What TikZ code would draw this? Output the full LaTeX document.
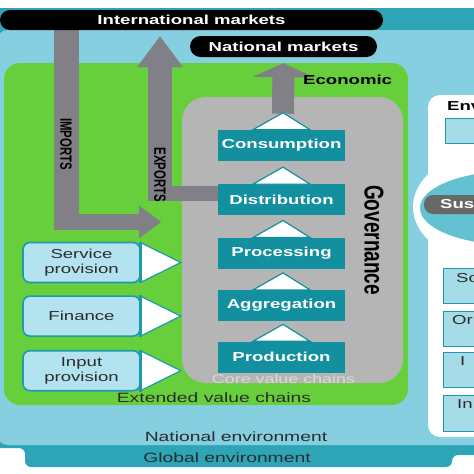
\documentclass[tikz,border=0pt]{standalone}
\usepackage{fontspec}
\setmainfont{Liberation Sans}[FakeStretch=1.43]
\newfontfamily\tallsf{Liberation Sans}
\usetikzlibrary{positioning,arrows.meta,shapes.misc}
\definecolor{globteal}{HTML}{2EA5B7}
\definecolor{natblue}{HTML}{86CFE1}
\definecolor{extgreen}{HTML}{68CF3C}
\definecolor{coregray}{HTML}{B5B5B5}
\definecolor{corelight}{HTML}{DADADA}
\definecolor{arrgray}{HTML}{808086}
\definecolor{chainteal}{HTML}{13909F}
\definecolor{suppfill}{HTML}{B3E3EE}
\definecolor{suppedge}{HTML}{1E9AAE}
\definecolor{ringteal}{HTML}{63C1D1}
\definecolor{pillgray}{HTML}{686868}
\definecolor{boxfill}{HTML}{A6DCE7}
\definecolor{darktext}{HTML}{2B2B2B}
\pgfdeclarelayer{back}
\pgfdeclarelayer{mid}
\pgfsetlayers{back,mid,main}
\tikzset{
  region/.style={rectangle, inner sep=0pt, outer sep=0pt},
  market/.style={rounded rectangle, fill=black, text=white, inner sep=0pt, font=\fontsize{13}{15}\selectfont\bfseries},
  stage/.style={rectangle, fill=chainteal, text=white, minimum width=127pt, minimum height=31pt, inner sep=0pt, font=\fontsize{13}{15}\selectfont\bfseries},
  uptri/.style={draw=chainteal, line width=1.2pt, fill=white, line join=miter},
  supply/.style={rectangle, rounded corners=7pt, draw=suppedge, line width=1.6pt, fill=suppfill, text=darktext, minimum width=117pt, minimum height=40pt, inner sep=0pt, align=center, font=\fontsize{13}{14.5}\selectfont},
  sidetri/.style={draw=suppedge, line width=1.2pt, fill=white, line join=miter},
  fat/.style={draw=arrgray, line join=miter},
  vlabel/.style={rotate=-90, yscale=1.43, inner sep=0pt, text=black},
  envbox/.style={rectangle, draw=suppedge, line width=1pt, fill=boxfill, inner sep=0pt, minimum width=60pt},
  frag/.style={anchor=west, inner sep=0pt, text=darktext, font=\fontsize{13}{15}\selectfont},
  envlabel/.style={inner sep=0pt, text=darktext, font=\fontsize{13.5}{15}\selectfont}
}
\begin{document}
\begin{tikzpicture}[x=1pt,y=-1pt]
  \useasboundingbox (0,0) rectangle (474,474);
  \clip (0,0) rectangle (474,474);

  \begin{pgfonlayer}{back}
    \fill[globteal, rounded corners=6pt] (-10,8) -- (490,8) -- (490,455) -- (452,455) -- (452,467) -- (25,467) -- (25,448) -- (-10,448) -- cycle;
    \fill[natblue, rounded corners=12pt] (-4,30) rectangle (490,445);
    \node[region, fill=extgreen, rounded corners=16pt, minimum width=404pt, minimum height=342pt] (ext) at (206,234) {};
    \node[region, fill=coregray, rounded corners=24pt, minimum width=221pt, minimum height=286pt] (core) at (292.5,240) {};
    % sustainability panel
    \node[region, fill=white, rounded corners=12pt, minimum width=70pt, minimum height=342pt] (panel) at (463,266) {};
    \fill[white] (513,207) ellipse [x radius=100, y radius=62];
    \fill[ringteal] (513,208) ellipse [x radius=93, y radius=37];
    \node[region, fill=pillgray, rounded corners=9pt, minimum width=90pt, minimum height=19pt, anchor=west] (sus) at (424,204.5) {};
  \end{pgfonlayer}

  \node[market, minimum width=383pt, minimum height=20pt] (intl) at (191.5,20) {International markets};
  \node[market, minimum width=187pt, minimum height=21pt] (natl) at (283.5,46.5) {National markets};

  \node[stage] (prod) at (281.5,357) {Production};
  \node[stage, above=20pt of prod] (aggr) {Aggregation};
  \node[stage, above=21pt of aggr] (proc) {Processing};
  \node[stage, above=22pt of proc] (distr) {Distribution};
  \node[stage, above=23pt of distr] (cons) {Consumption};
  \foreach \s in {cons,distr,proc,aggr,prod}
    \draw[uptri] ([xshift=-28.5pt]\s.north) -- ([xshift=28.5pt]\s.north) -- ([xshift=1.5pt,yshift=17pt]\s.north) -- cycle;

  \node[supply] (serv) at (81.5,262.5) {Service\\provision};
  \node[supply, below=12pt of serv] (fin) {Finance};
  \node[supply, below=13pt of fin] (inp) {Input\\provision};
  \foreach \s in {serv,fin,inp} {
    \draw[sidetri] ([yshift=-1pt]\s.north east) -- ([yshift=1pt]\s.south east) -- ([xshift=40pt]\s.east) -- cycle;
    \draw[suppedge, line width=3pt] (\s.north east) -- (\s.south east);
  }

  \node[anchor=west, inner sep=0pt, font=\fontsize{13}{15}\selectfont\bfseries] (econ) at (303,80) {Economic};
  \node[vlabel, font=\tallsf\fontsize{19}{21}\selectfont\bfseries] (gov) at (374,240) {Governance};
  \node[vlabel, font=\tallsf\fontsize{11.4}{13}\selectfont\bfseries] (implab) at (66,144) {IMPORTS};
  \node[vlabel, font=\tallsf\fontsize{11.4}{13}\selectfont\bfseries] (explab) at (160,175) {EXPORTS};

  \node[envlabel] (extlab) at (214,398) {Extended value chains};
  \node[envlabel, text=corelight, font=\fontsize{12.5}{14}\selectfont] (corelab) at (283.5,379) {Core value chains};
  \node[envlabel] (natlab) at (236,437) {National environment};
  \node[envlabel] (globlab) at (227,458) {Global environment};

  \node[frag, font=\fontsize{13}{15}\selectfont\bfseries, text=black] (envlab) at (447,106) {Env};
  \node[envbox, minimum height=25pt, anchor=north west] (envtop) at (445,118) {};
  \node[frag, text=white, font=\fontsize{13}{15}\selectfont\bfseries] (suslab) at ([xshift=16pt]sus.west) {Sus};
  \node[envbox, minimum height=35pt, anchor=north west] (soc) at (443,268) {};
  \node[envbox, minimum height=35pt, below=7pt of soc.south west, anchor=north west] (org) {};
  \node[envbox, minimum height=35pt, below=5pt of org.south west, anchor=north west] (ins) {};
  \node[envbox, minimum height=36pt, below=7pt of ins.south west, anchor=north west] (inf) {};
  \node[frag] at ([xshift=13pt,yshift=-10pt]soc.north west) {So};
  \node[frag] at ([xshift=9pt,yshift=-9pt]org.north west) {Or};
  \node[frag] at ([xshift=17pt,yshift=-9pt]ins.north west) {I};
  \node[frag] at ([xshift=14pt,yshift=-9pt]inf.north west) {In};

  \begin{pgfonlayer}{mid}
    \coordinate (impin) at ([xshift=-125.5pt]intl.south);
    \coordinate (impout) at ([xshift=-21pt,yshift=18pt]core.west);
    \coordinate (impcorner) at (impin |- impout);
    \draw[fat, line width=25pt] (impin) -- ([yshift=-8pt]impcorner);
    \draw[fat, line width=16pt, -{Triangle[length=22pt,width=33pt,line width=0pt]}] ([xshift=-12.5pt]impcorner) -- (impout);

    \coordinate (expin) at ([yshift=6pt]distr.west);
    \coordinate (expout) at ([xshift=-31.5pt,yshift=-6pt]intl.south);
    \coordinate (expcorner) at (expout |- expin);
    \draw[fat, line width=15pt] (expin) -- ([xshift=-12pt]expcorner);
    \draw[fat, line width=24pt, -{Triangle[length=31pt,width=46pt,line width=0pt]}] ([yshift=-7.5pt]expcorner) -- (expout);

    \draw[fat, line width=22pt, -{Triangle[length=14pt,width=62pt,line width=0pt]}] ([xshift=1.5pt,yshift=16pt]cons.north) -- ([yshift=-6pt]natl.south);
  \end{pgfonlayer}
\end{tikzpicture}
\end{document}
